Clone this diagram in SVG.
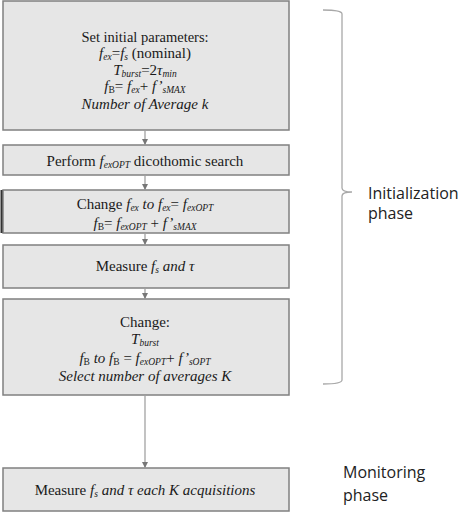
<svg xmlns="http://www.w3.org/2000/svg" width="474" height="518" viewBox="0 0 474 518">
<style>
.box{fill:#e6e6e6;stroke:#808080;stroke-width:1.5}
.t{font-family:"Liberation Serif","Times New Roman",serif;font-size:15px;fill:#1a1a1a;text-anchor:middle}
.i{font-style:italic}
.s{font-size:9.5px;baseline-shift:-2px}
.ph{font-family:"Open Sans","Liberation Sans",sans-serif;font-size:16px;fill:#222}
.con{stroke:#9a9a9a;stroke-width:1.2;fill:none}
.br{stroke:#a8a8a8;stroke-width:1.3;fill:none}
</style>
<defs>
<marker id="ah" markerWidth="6" markerHeight="6" refX="5" refY="3" orient="auto" markerUnits="userSpaceOnUse">
<path d="M0,0 L6,3 L0,6 Z" fill="#777"/>
</marker>
</defs>
<g id="connectors">
<line class="con" x1="145" y1="131" x2="145" y2="144" marker-end="url(#ah)"/>
<line class="con" x1="145" y1="176" x2="145" y2="189" marker-end="url(#ah)"/>
<line class="con" x1="145" y1="234" x2="145" y2="244" marker-end="url(#ah)"/>
<line class="con" x1="145" y1="289" x2="145" y2="298" marker-end="url(#ah)"/>
<line class="con" x1="145" y1="396" x2="145" y2="467" marker-end="url(#ah)"/>
</g>
<g id="n1">
<rect class="box" x="3" y="1" width="286" height="129"/>
<text class="t" x="145" y="42" style="font-size:14.5px">Set initial parameters:</text>
<text class="t" x="145" y="58"><tspan class="i">f</tspan><tspan class="i s">ex</tspan>=<tspan class="i">f</tspan><tspan class="i s">s</tspan> (nominal)</text>
<text class="t" x="145" y="75"><tspan class="i">T</tspan><tspan class="i s">burst</tspan>=2<tspan class="i">τ</tspan><tspan class="i s">min</tspan></text>
<text class="t" x="145" y="91"><tspan class="i">f</tspan><tspan class="s">B</tspan>= <tspan class="i">f</tspan><tspan class="i s">ex</tspan>+ <tspan class="i">f’</tspan><tspan class="i s">sMAX</tspan></text>
<text class="t i" x="145" y="109">Number of Average k</text>
</g>
<g id="n2">
<rect class="box" x="3" y="145" width="286" height="30"/>
<text class="t" x="145" y="166">Perform <tspan class="i">f</tspan><tspan class="i s">exOPT</tspan> dicothomic search</text>
</g>
<g id="n3">
<rect class="box" x="3" y="190" width="286" height="43"/>
<line x1="1.5" y1="190" x2="1.5" y2="233" stroke="#333" stroke-width="2"/>
<text class="t" x="145" y="209">Change <tspan class="i">f</tspan><tspan class="i s">ex</tspan><tspan class="i"> to f</tspan><tspan class="i s">ex</tspan>= <tspan class="i">f</tspan><tspan class="i s">exOPT</tspan></text>
<text class="t" x="145" y="228"><tspan class="i">f</tspan><tspan class="s">B</tspan>= <tspan class="i">f</tspan><tspan class="i s">exOPT</tspan> + <tspan class="i">f’</tspan><tspan class="i s">sMAX</tspan></text>
</g>
<g id="n4">
<rect class="box" x="3" y="245" width="286" height="43"/>
<text class="t" x="145" y="271">Measure <tspan class="i">f</tspan><tspan class="i s">s</tspan><tspan class="i">  and τ</tspan></text>
</g>
<g id="n5">
<rect class="box" x="3" y="299" width="286" height="96"/>
<text class="t" x="145" y="327">Change:</text>
<text class="t" x="145" y="344"><tspan class="i">T</tspan><tspan class="i s">burst</tspan></text>
<text class="t" x="145" y="363"><tspan class="i">f</tspan><tspan class="s">B</tspan><tspan class="i"> to f</tspan><tspan class="s">B</tspan> = <tspan class="i">f</tspan><tspan class="i s">exOPT</tspan>+ <tspan class="i">f’</tspan><tspan class="i s">sOPT</tspan></text>
<text class="t i" x="145" y="381">Select number of averages K</text>
</g>
<g id="n6">
<rect class="box" x="3" y="468" width="286" height="43"/>
<text class="t" x="145" y="495">Measure <tspan class="i">f</tspan><tspan class="i s">s</tspan><tspan class="i">  and τ each K acquisitions</tspan></text>
</g>
<g id="brace">
<path class="br" d="M323,10 Q342,10 342,14 L342,188 Q342,192 352,192 Q342,192 342,196 L342,380 Q342,384 323,384"/>
</g>
<g id="labels">
<text class="ph" x="368" y="199">Initialization</text>
<text class="ph" x="368" y="219">phase</text>
<text class="ph" x="343" y="478">Monitoring</text>
<text class="ph" x="343" y="501">phase</text>
</g>
</svg>
